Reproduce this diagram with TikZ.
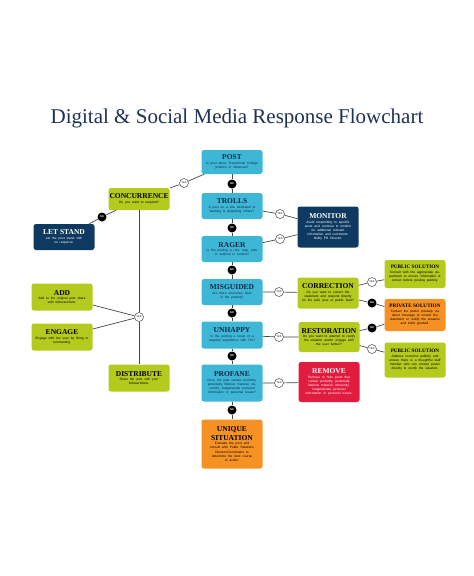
\documentclass[tikz,border=0pt]{standalone}
\usepackage{fontspec}
\setmainfont{Liberation Serif}
\setsansfont{Liberation Sans}
\definecolor{skyblue}{RGB}{62,182,214}
\definecolor{limegreen}{RGB}{180,202,28}
\definecolor{navyblue}{RGB}{14,58,98}
\definecolor{tangerine}{RGB}{246,146,36}
\definecolor{crimson}{RGB}{226,28,62}
\definecolor{titlenavy}{RGB}{30,50,82}
\definecolor{inkblue}{RGB}{16,40,70}
\definecolor{linegray}{RGB}{70,70,70}
\newcommand\boxhead[1]{{\centering\fontsize{7.5}{8.5}\selectfont\bfseries\spaceskip=0pt #1\par}\vspace{0.6pt}}
\newcommand\smallhead[1]{{\centering\fontsize{5.2}{6}\selectfont\bfseries\spaceskip=0pt #1\par}\vspace{0.8pt}}
\newcommand\boxtext[1]{{\centering\sffamily\fontsize{3.2}{4.1}\selectfont\spaceskip=0.62em #1\par}}
\begin{document}
\begin{tikzpicture}
[
    x=1pt, y=-1pt,
    box/.style={rounded corners=2.5pt, minimum width=61pt, text width=59pt, align=center, inner xsep=1pt, inner ysep=2pt},
    blue box/.style={box, fill=skyblue, text=inkblue},
    green box/.style={box, fill=limegreen, text=black},
    navy box/.style={box, fill=navyblue, text=white},
    orange box/.style={box, fill=tangerine, text=black},
    red box/.style={box, fill=crimson, text=white},
    yesdot/.style={circle, draw=linegray, fill=white, line width=0.5pt, minimum size=9pt, inner sep=0pt, font=\sffamily\fontsize{2.6}{3}\selectfont},
    nodot/.style={circle, fill=black, text=white, minimum size=9pt, inner sep=0pt, font=\sffamily\bfseries\fontsize{2.6}{3}\selectfont},
    link/.style={draw=linegray, line width=0.7pt},
]
\useasboundingbox[fill=white] (0,0) rectangle (474,576);
\node[anchor=base, font=\fontsize{21}{25}\selectfont, text=titlenavy] (title) at (237,123) {Digital \& Social Media Response Flowchart};

% middle column
\node[blue box, minimum height=24pt] (post) at (232,162) {\boxhead{POST}\boxtext{Is post about Transitional College\\position or listserves?}};
\node[blue box, minimum height=26pt] (trolls) at (232,206) {\boxhead{TROLLS}\boxtext{A post on a site dedicated to\\bashing \& degrading others?}};
\node[blue box, minimum height=26pt] (rager) at (232,249) {\boxhead{RAGER}\boxtext{Is the posting a rant, rage, joke\\or satirical in content?}};
\node[blue box, minimum height=26pt] (misguided) at (232,292) {\boxhead{MISGUIDED}\boxtext{Are there erroneous facts\\in the posting?}};
\node[blue box, minimum height=27pt] (unhappy) at (232,335) {\boxhead{UNHAPPY}\boxtext{Is the posting a result of a\\negative experience with TCI?}};
\node[blue box, minimum height=37pt] (profane) at (232,383) {\boxhead{PROFANE}\boxtext{Does the post contain profanity,\\potentially libelous material, ob-\\scenity, inappropriate personal\\information or personal issues?}};
\node[orange box, minimum height=49pt] (unique) at (232,444) {\boxhead{UNIQUE\\SITUATION}\boxtext{Evaluate the post and\\consult with Public Relations\\Director/Coordinator to\\determine the best course\\of action.}};

% left column
\node[green box, minimum height=22pt] (concurrence) at (139,199) {\boxhead{CONCURRENCE}\boxtext{Do you want to respond?}};
\node[navy box, minimum height=26pt] (letstand) at (64,237) {\boxhead{LET STAND}\boxtext{Let the post stand with\\no response.}};
\node[green box, minimum height=27pt] (add) at (62,297) {\boxhead{ADD}\boxtext{Add to the original post share\\with followers/fans.}};
\node[green box, minimum height=27pt] (engage) at (62,337) {\boxhead{ENGAGE}\boxtext{Engage with the user by liking or\\commenting.}};
\node[green box, minimum height=27pt] (distribute) at (139,378) {\boxhead{DISTRIBUTE}\boxtext{Share the post with your\\followers/fans.}};

% right columns
\node[navy box, minimum height=41pt] (monitor) at (328,227) {\boxhead{MONITOR}\boxtext{Avoid responding to specific\\posts and continue to monitor\\for additional relevant\\information and comments.\\Notify PR Director.}};
\node[green box, minimum height=31pt] (correction) at (328,293) {\boxhead{CORRECTION}\boxtext{Do you want to correct the\\statement and respond directly\\on the wall, post or public feed?}};
\node[green box, minimum height=30pt] (restoration) at (329,337) {\boxhead{RESTORATION}\boxtext{Do you want to attempt to rectify\\the situation and/or engage with\\the user further?}};
\node[red box, minimum height=40pt] (remove) at (329,382) {\boxhead{REMOVE}\boxtext{Remove or hide posts that\\contain profanity, potentially\\libelous material, obscenity,\\inappropriate personal\\information or personal issues.}};
\node[green box, minimum height=28pt] (pubsol) at (415,274) {\smallhead{PUBLIC SOLUTION}\boxtext{Consult with the appropriate de-\\partment to ensure information is\\correct before posting publicly.}};
\node[orange box, minimum height=32pt] (privsol) at (415,315) {\smallhead{PRIVATE SOLUTION}\boxtext{Contact the poster privately via\\direct message to correct the\\statement or rectify the situation\\and build goodwill.}};
\node[green box, minimum height=35pt] (pubsoltwo) at (415,360) {\smallhead{PUBLIC SOLUTION}\boxtext{Address concerns publicly and\\ensure there is a thoughtful staff\\member who can contact poster\\directly to rectify the situation.}};

% answers
\node[yesdot] (y1) at (184,183) {YES};
\node[nodot] (n1) at (102,217) {NO};
\node[nodot] (n2) at (232,184) {NO};
\node[yesdot] (y2) at (280,214) {YES};
\node[nodot] (n3) at (232,228) {NO};
\node[yesdot] (y3) at (280,239) {YES};
\node[nodot] (n4) at (232,270) {NO};
\node[yesdot] (y4) at (279,292) {YES};
\node[nodot] (n5) at (232,313) {NO};
\node[yesdot] (y5) at (279,337) {YES};
\node[nodot] (n6) at (232,356) {NO};
\node[yesdot] (y6) at (279,383) {YES};
\node[nodot] (n7) at (232,410) {NO};
\node[yesdot] (y7) at (139,317) {YES};
\node[yesdot] (y8) at (372,282) {YES};
\node[nodot] (n8) at (372,303) {NO};
\node[nodot] (n9) at (372,328) {NO};
\node[yesdot] (y9) at (372,349) {YES};

% connectors
\path[link] (post) -- (y1) -- (concurrence);
\path[link] (concurrence) -- (n1) -- (letstand);
\path[link] (concurrence) -- (y7) -- (distribute);
\path[link] (add) -- (y7);
\path[link] (engage) -- (y7);
\path[link] (post) -- (n2) -- (trolls);
\path[link] (trolls) -- (y2) -- (monitor);
\path[link] (trolls) -- (n3) -- (rager);
\path[link] (rager) -- (y3) -- (monitor);
\path[link] (rager) -- (n4) -- (misguided);
\path[link] (misguided) -- (y4) -- (correction);
\path[link] (misguided) -- (n5) -- (unhappy);
\path[link] (unhappy) -- (y5) -- (restoration);
\path[link] (unhappy) -- (n6) -- (profane);
\path[link] (profane) -- (y6) -- (remove);
\path[link] (profane) -- (n7) -- (unique);
\path[link] (correction) -- (y8) -- (pubsol);
\path[link] (correction) -- (n8) -- (privsol);
\path[link] (restoration) -- (n9) -- (privsol);
\path[link] (restoration) -- (y9) -- (pubsoltwo);
\end{tikzpicture}
\end{document}
